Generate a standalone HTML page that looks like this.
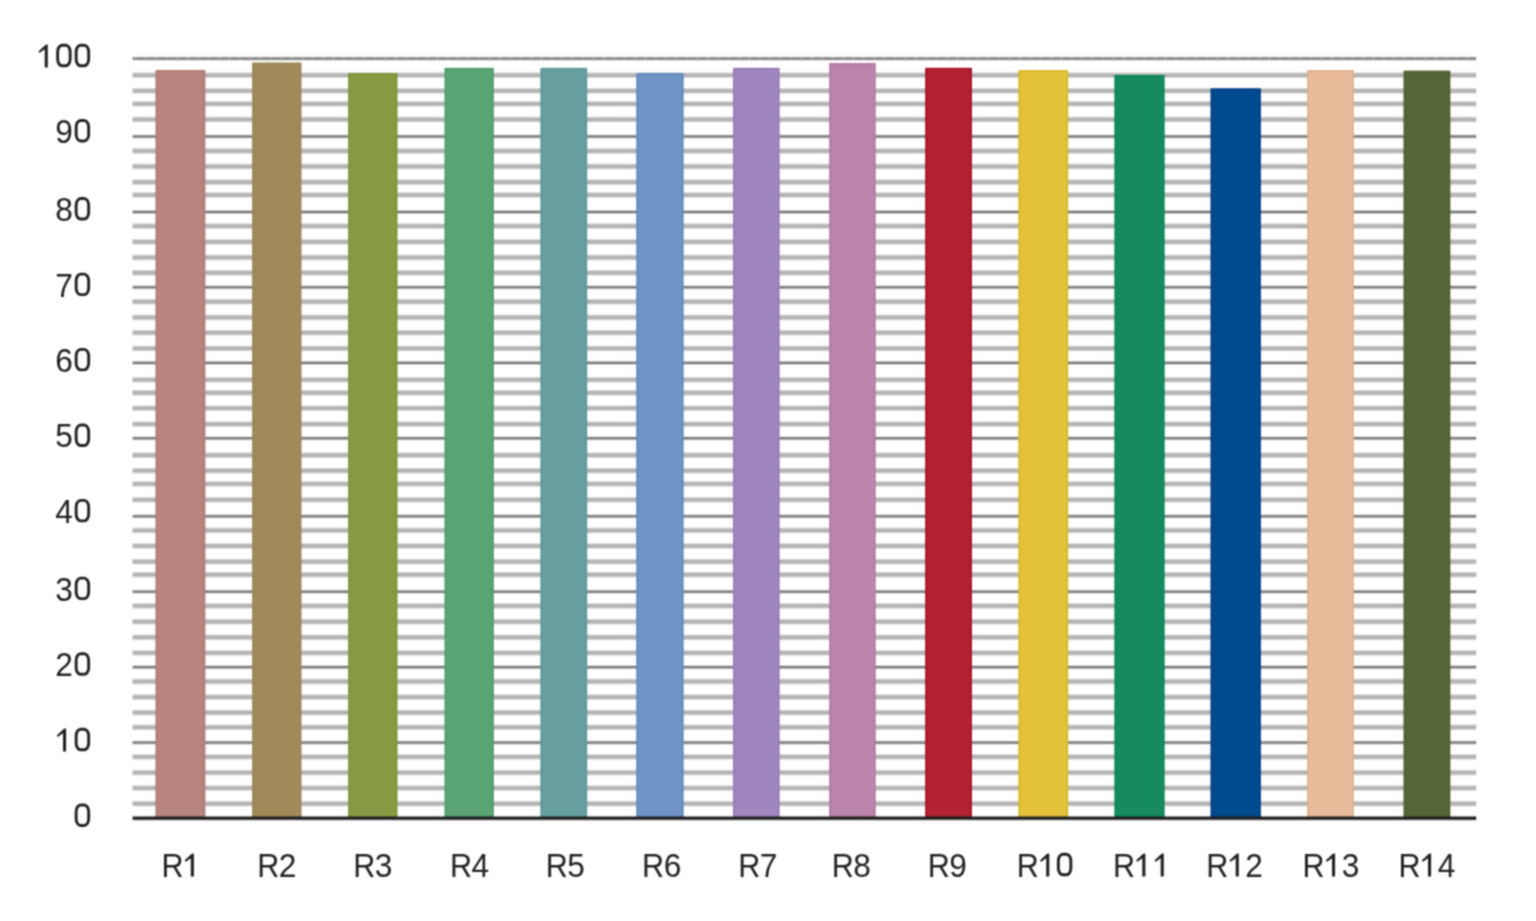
<!DOCTYPE html>
<html><head><meta charset="utf-8"><style>
html,body{margin:0;padding:0;background:#fff;width:1536px;height:921px;overflow:hidden}
svg{display:block;font-family:"Liberation Sans",sans-serif}
</style></head><body>
<svg width="1536" height="921" viewBox="0 0 1536 921">
<rect width="1536" height="921" fill="#fff"/>
<defs><filter id="k" x="0" y="0" width="1536" height="921" filterUnits="userSpaceOnUse" color-interpolation-filters="sRGB"><feConvolveMatrix order="3" kernelMatrix="1 2 1 2 4 2 1 2 1" divisor="16" edgeMode="duplicate"/></filter></defs>
<g filter="url(#k)"><rect width="1536" height="921" fill="#fff"/>
<rect x="132.3" y="56.6" width="1344.2" height="4" fill="#7a7a7a" opacity=".3"/>
<rect x="132.8" y="57.5" width="1343.2" height="2.2" fill="#7a7a7a"/>
<rect x="132.3" y="72.3" width="1344.2" height="5.8" fill="#b4b4b4" opacity=".45"/>
<rect x="132.8" y="73.4" width="1343.2" height="3.6" fill="#b4b4b4"/>
<rect x="132.3" y="88" width="1344.2" height="5.8" fill="#b4b4b4" opacity=".45"/>
<rect x="132.8" y="89.1" width="1343.2" height="3.6" fill="#b4b4b4"/>
<rect x="132.3" y="101" width="1344.2" height="5.8" fill="#b4b4b4" opacity=".45"/>
<rect x="132.8" y="102.1" width="1343.2" height="3.6" fill="#b4b4b4"/>
<rect x="132.3" y="116.6" width="1344.2" height="5.8" fill="#b4b4b4" opacity=".45"/>
<rect x="132.8" y="117.7" width="1343.2" height="3.6" fill="#b4b4b4"/>
<rect x="132.3" y="134.5" width="1344.2" height="4" fill="#7a7a7a" opacity=".3"/>
<rect x="132.8" y="135.4" width="1343.2" height="2.2" fill="#7a7a7a"/>
<rect x="132.3" y="148.1" width="1344.2" height="5.8" fill="#b4b4b4" opacity=".45"/>
<rect x="132.8" y="149.2" width="1343.2" height="3.6" fill="#b4b4b4"/>
<rect x="132.3" y="163.6" width="1344.2" height="5.8" fill="#b4b4b4" opacity=".45"/>
<rect x="132.8" y="164.7" width="1343.2" height="3.6" fill="#b4b4b4"/>
<rect x="132.3" y="179.2" width="1344.2" height="5.8" fill="#b4b4b4" opacity=".45"/>
<rect x="132.8" y="180.3" width="1343.2" height="3.6" fill="#b4b4b4"/>
<rect x="132.3" y="192.1" width="1344.2" height="5.8" fill="#b4b4b4" opacity=".45"/>
<rect x="132.8" y="193.2" width="1343.2" height="3.6" fill="#b4b4b4"/>
<rect x="132.3" y="210" width="1344.2" height="4" fill="#7a7a7a" opacity=".3"/>
<rect x="132.8" y="210.9" width="1343.2" height="2.2" fill="#7a7a7a"/>
<rect x="132.3" y="223.2" width="1344.2" height="5.8" fill="#b4b4b4" opacity=".45"/>
<rect x="132.8" y="224.3" width="1343.2" height="3.6" fill="#b4b4b4"/>
<rect x="132.3" y="239" width="1344.2" height="5.8" fill="#b4b4b4" opacity=".45"/>
<rect x="132.8" y="240.1" width="1343.2" height="3.6" fill="#b4b4b4"/>
<rect x="132.3" y="254.6" width="1344.2" height="5.8" fill="#b4b4b4" opacity=".45"/>
<rect x="132.8" y="255.7" width="1343.2" height="3.6" fill="#b4b4b4"/>
<rect x="132.3" y="269.9" width="1344.2" height="5.8" fill="#b4b4b4" opacity=".45"/>
<rect x="132.8" y="271" width="1343.2" height="3.6" fill="#b4b4b4"/>
<rect x="132.3" y="285.3" width="1344.2" height="4" fill="#7a7a7a" opacity=".3"/>
<rect x="132.8" y="286.2" width="1343.2" height="2.2" fill="#7a7a7a"/>
<rect x="132.3" y="298.8" width="1344.2" height="5.8" fill="#b4b4b4" opacity=".45"/>
<rect x="132.8" y="299.9" width="1343.2" height="3.6" fill="#b4b4b4"/>
<rect x="132.3" y="314.5" width="1344.2" height="5.8" fill="#b4b4b4" opacity=".45"/>
<rect x="132.8" y="315.6" width="1343.2" height="3.6" fill="#b4b4b4"/>
<rect x="132.3" y="329.8" width="1344.2" height="5.8" fill="#b4b4b4" opacity=".45"/>
<rect x="132.8" y="330.9" width="1343.2" height="3.6" fill="#b4b4b4"/>
<rect x="132.3" y="345.5" width="1344.2" height="5.8" fill="#b4b4b4" opacity=".45"/>
<rect x="132.8" y="346.6" width="1343.2" height="3.6" fill="#b4b4b4"/>
<rect x="132.3" y="360.9" width="1344.2" height="4" fill="#7a7a7a" opacity=".3"/>
<rect x="132.8" y="361.8" width="1343.2" height="2.2" fill="#7a7a7a"/>
<rect x="132.3" y="376.9" width="1344.2" height="5.8" fill="#b4b4b4" opacity=".45"/>
<rect x="132.8" y="378" width="1343.2" height="3.6" fill="#b4b4b4"/>
<rect x="132.3" y="389.9" width="1344.2" height="5.8" fill="#b4b4b4" opacity=".45"/>
<rect x="132.8" y="391" width="1343.2" height="3.6" fill="#b4b4b4"/>
<rect x="132.3" y="405.3" width="1344.2" height="5.8" fill="#b4b4b4" opacity=".45"/>
<rect x="132.8" y="406.4" width="1343.2" height="3.6" fill="#b4b4b4"/>
<rect x="132.3" y="421.2" width="1344.2" height="5.8" fill="#b4b4b4" opacity=".45"/>
<rect x="132.8" y="422.3" width="1343.2" height="3.6" fill="#b4b4b4"/>
<rect x="132.3" y="436.3" width="1344.2" height="4" fill="#7a7a7a" opacity=".3"/>
<rect x="132.8" y="437.2" width="1343.2" height="2.2" fill="#7a7a7a"/>
<rect x="132.3" y="452.3" width="1344.2" height="5.8" fill="#b4b4b4" opacity=".45"/>
<rect x="132.8" y="453.4" width="1343.2" height="3.6" fill="#b4b4b4"/>
<rect x="132.3" y="467.8" width="1344.2" height="5.8" fill="#b4b4b4" opacity=".45"/>
<rect x="132.8" y="468.9" width="1343.2" height="3.6" fill="#b4b4b4"/>
<rect x="132.3" y="481" width="1344.2" height="5.8" fill="#b4b4b4" opacity=".45"/>
<rect x="132.8" y="482.1" width="1343.2" height="3.6" fill="#b4b4b4"/>
<rect x="132.3" y="496.9" width="1344.2" height="5.8" fill="#b4b4b4" opacity=".45"/>
<rect x="132.8" y="498" width="1343.2" height="3.6" fill="#b4b4b4"/>
<rect x="132.3" y="514.3" width="1344.2" height="4" fill="#7a7a7a" opacity=".3"/>
<rect x="132.8" y="515.2" width="1343.2" height="2.2" fill="#7a7a7a"/>
<rect x="132.3" y="527.5" width="1344.2" height="5.8" fill="#b4b4b4" opacity=".45"/>
<rect x="132.8" y="528.6" width="1343.2" height="3.6" fill="#b4b4b4"/>
<rect x="132.3" y="543.1" width="1344.2" height="5.8" fill="#b4b4b4" opacity=".45"/>
<rect x="132.8" y="544.2" width="1343.2" height="3.6" fill="#b4b4b4"/>
<rect x="132.3" y="558.8" width="1344.2" height="5.8" fill="#b4b4b4" opacity=".45"/>
<rect x="132.8" y="559.9" width="1343.2" height="3.6" fill="#b4b4b4"/>
<rect x="132.3" y="571.8" width="1344.2" height="5.8" fill="#b4b4b4" opacity=".45"/>
<rect x="132.8" y="572.9" width="1343.2" height="3.6" fill="#b4b4b4"/>
<rect x="132.3" y="589.7" width="1344.2" height="4" fill="#7a7a7a" opacity=".3"/>
<rect x="132.8" y="590.6" width="1343.2" height="2.2" fill="#7a7a7a"/>
<rect x="132.3" y="603" width="1344.2" height="5.8" fill="#b4b4b4" opacity=".45"/>
<rect x="132.8" y="604.1" width="1343.2" height="3.6" fill="#b4b4b4"/>
<rect x="132.3" y="618.8" width="1344.2" height="5.8" fill="#b4b4b4" opacity=".45"/>
<rect x="132.8" y="619.9" width="1343.2" height="3.6" fill="#b4b4b4"/>
<rect x="132.3" y="634.4" width="1344.2" height="5.8" fill="#b4b4b4" opacity=".45"/>
<rect x="132.8" y="635.5" width="1343.2" height="3.6" fill="#b4b4b4"/>
<rect x="132.3" y="650" width="1344.2" height="5.8" fill="#b4b4b4" opacity=".45"/>
<rect x="132.8" y="651.1" width="1343.2" height="3.6" fill="#b4b4b4"/>
<rect x="132.3" y="665.2" width="1344.2" height="4" fill="#7a7a7a" opacity=".3"/>
<rect x="132.8" y="666.1" width="1343.2" height="2.2" fill="#7a7a7a"/>
<rect x="132.3" y="678.6" width="1344.2" height="5.8" fill="#b4b4b4" opacity=".45"/>
<rect x="132.8" y="679.7" width="1343.2" height="3.6" fill="#b4b4b4"/>
<rect x="132.3" y="694.2" width="1344.2" height="5.8" fill="#b4b4b4" opacity=".45"/>
<rect x="132.8" y="695.3" width="1343.2" height="3.6" fill="#b4b4b4"/>
<rect x="132.3" y="709.7" width="1344.2" height="5.8" fill="#b4b4b4" opacity=".45"/>
<rect x="132.8" y="710.8" width="1343.2" height="3.6" fill="#b4b4b4"/>
<rect x="132.3" y="724.4" width="1344.2" height="5.8" fill="#b4b4b4" opacity=".45"/>
<rect x="132.8" y="725.5" width="1343.2" height="3.6" fill="#b4b4b4"/>
<rect x="132.3" y="740.6" width="1344.2" height="4" fill="#7a7a7a" opacity=".3"/>
<rect x="132.8" y="741.5" width="1343.2" height="2.2" fill="#7a7a7a"/>
<rect x="132.3" y="754" width="1344.2" height="5.8" fill="#b4b4b4" opacity=".45"/>
<rect x="132.8" y="755.1" width="1343.2" height="3.6" fill="#b4b4b4"/>
<rect x="132.3" y="769.7" width="1344.2" height="5.8" fill="#b4b4b4" opacity=".45"/>
<rect x="132.8" y="770.8" width="1343.2" height="3.6" fill="#b4b4b4"/>
<rect x="132.3" y="785.2" width="1344.2" height="5.8" fill="#b4b4b4" opacity=".45"/>
<rect x="132.8" y="786.3" width="1343.2" height="3.6" fill="#b4b4b4"/>
<rect x="132.3" y="800.8" width="1344.2" height="5.8" fill="#b4b4b4" opacity=".45"/>
<rect x="132.8" y="801.9" width="1343.2" height="3.6" fill="#b4b4b4"/>
<rect x="155.7" y="70" width="49.5" height="748.2" fill="#b7857d"/>
<rect x="156.4" y="70.7" width="48.1" height="746.8" fill="none" stroke="#af786f" stroke-width="1.4"/>
<rect x="252.4" y="62.7" width="48.85" height="755.5" fill="#a08a5a"/>
<rect x="253.1" y="63.4" width="47.45" height="754.1" fill="none" stroke="#99814c" stroke-width="1.4"/>
<rect x="348.3" y="73.1" width="49" height="745.1" fill="#879a43"/>
<rect x="349" y="73.8" width="47.6" height="743.7" fill="none" stroke="#7e9333" stroke-width="1.4"/>
<rect x="444.7" y="67.9" width="48.9" height="750.3" fill="#5aa373"/>
<rect x="445.4" y="68.6" width="47.5" height="748.9" fill="none" stroke="#4b9c67" stroke-width="1.4"/>
<rect x="540.6" y="67.9" width="46.5" height="750.3" fill="#679e9f"/>
<rect x="541.3" y="68.6" width="45.1" height="748.9" fill="none" stroke="#5a9798" stroke-width="1.4"/>
<rect x="636.5" y="73.1" width="46.9" height="745.1" fill="#7094c6"/>
<rect x="637.2" y="73.8" width="45.5" height="743.7" fill="none" stroke="#5f86be" stroke-width="1.4"/>
<rect x="733.1" y="67.9" width="46.3" height="750.3" fill="#a086bf"/>
<rect x="733.8" y="68.6" width="44.9" height="748.9" fill="none" stroke="#9578b7" stroke-width="1.4"/>
<rect x="829.4" y="63" width="46.1" height="755.2" fill="#bb84ac"/>
<rect x="830.1" y="63.7" width="44.7" height="753.8" fill="none" stroke="#b376a2" stroke-width="1.4"/>
<rect x="925.4" y="67.9" width="46.4" height="750.3" fill="#b32234"/>
<rect x="926.1" y="68.6" width="45" height="748.9" fill="none" stroke="#ab0b1f" stroke-width="1.4"/>
<rect x="1018.6" y="70.3" width="49.5" height="747.9" fill="#e3c23a"/>
<rect x="1019.3" y="71" width="48.1" height="746.5" fill="none" stroke="#d9b51f" stroke-width="1.4"/>
<rect x="1114.6" y="75" width="49.8" height="743.2" fill="#158b5f"/>
<rect x="1115.3" y="75.7" width="48.4" height="741.8" fill="none" stroke="#038554" stroke-width="1.4"/>
<rect x="1210.7" y="88.5" width="50" height="729.7" fill="#004a8f"/>
<rect x="1211.4" y="89.2" width="48.6" height="728.3" fill="none" stroke="#003d89" stroke-width="1.4"/>
<rect x="1307.4" y="70.2" width="46.2" height="748" fill="#e8bb9a"/>
<rect x="1308.1" y="70.9" width="44.8" height="746.6" fill="none" stroke="#dead88" stroke-width="1.4"/>
<rect x="1403.7" y="70.8" width="46.5" height="747.4" fill="#566536"/>
<rect x="1404.4" y="71.5" width="45.1" height="746" fill="none" stroke="#50602d" stroke-width="1.4"/>
<defs><pattern id="dp" patternUnits="userSpaceOnUse" x="145" y="0" width="10.4" height="921"><rect x="0" y="56.6" width="2.4" height="4" fill="#fff" opacity=".15"/></pattern></defs>
<rect x="132.8" y="56.6" width="1343.2" height="4" fill="url(#dp)"/>
<rect x="132.3" y="815.8" width="1344.2" height="4.8" fill="#222" opacity=".3"/>
<rect x="132.8" y="816.8" width="1343.2" height="2.8" fill="#1c1c1c"/>
<g fill="#222" font-size="33.4">
<rect x="76.15" y="45.25" width="12.5" height="20.5" rx="4.5" ry="6.5" fill="none" stroke="#222" stroke-width="2.9"/>
<rect x="57.65" y="45.25" width="12.5" height="20.5" rx="4.5" ry="6.5" fill="none" stroke="#222" stroke-width="2.9"/>
<path d="M47.8 44.6 L47.8 67.6 L44.7 67.6 L44.7 49.2 L39.4 52.9 L38.6 51.3 L45.6 44.8Z"/>
<rect x="76.15" y="120.45" width="12.5" height="20.5" rx="4.5" ry="6.5" fill="none" stroke="#222" stroke-width="2.9"/>
<text transform="translate(64 142.8) scale(.95 1)" x="-9.3">9</text>
<rect x="76.15" y="198.55" width="12.5" height="20.5" rx="4.5" ry="6.5" fill="none" stroke="#222" stroke-width="2.9"/>
<text transform="translate(64 220.9) scale(.95 1)" x="-9.3">8</text>
<rect x="76.15" y="274.15" width="12.5" height="20.5" rx="4.5" ry="6.5" fill="none" stroke="#222" stroke-width="2.9"/>
<text transform="translate(64 296.5) scale(.95 1)" x="-9.3">7</text>
<rect x="76.15" y="349.35" width="12.5" height="20.5" rx="4.5" ry="6.5" fill="none" stroke="#222" stroke-width="2.9"/>
<text transform="translate(64 371.7) scale(.95 1)" x="-9.3">6</text>
<rect x="76.15" y="425.05" width="12.5" height="20.5" rx="4.5" ry="6.5" fill="none" stroke="#222" stroke-width="2.9"/>
<text transform="translate(64 447.4) scale(.95 1)" x="-9.3">5</text>
<rect x="76.15" y="500.35" width="12.5" height="20.5" rx="4.5" ry="6.5" fill="none" stroke="#222" stroke-width="2.9"/>
<text transform="translate(64 522.7) scale(.95 1)" x="-9.3">4</text>
<rect x="76.15" y="578.15" width="12.5" height="20.5" rx="4.5" ry="6.5" fill="none" stroke="#222" stroke-width="2.9"/>
<text transform="translate(64 600.5) scale(.95 1)" x="-9.3">3</text>
<rect x="76.15" y="653.75" width="12.5" height="20.5" rx="4.5" ry="6.5" fill="none" stroke="#222" stroke-width="2.9"/>
<text transform="translate(64 676.1) scale(.95 1)" x="-9.3">2</text>
<rect x="76.15" y="729.25" width="12.5" height="20.5" rx="4.5" ry="6.5" fill="none" stroke="#222" stroke-width="2.9"/>
<path d="M66.1 728.6 L66.1 751.6 L63 751.6 L63 733.2 L57.7 736.9 L56.9 735.3 L63.9 728.8Z"/>
<rect x="76.15" y="804.95" width="12.5" height="20.5" rx="4.5" ry="6.5" fill="none" stroke="#222" stroke-width="2.9"/>
<text transform="translate(161.39 876.6) scale(.915 1)">R</text>
<path d="M193.9 853.6 L193.9 876.6 L190.8 876.6 L190.8 858.2 L185.5 861.9 L184.7 860.3 L191.7 853.8Z"/>
<text transform="translate(257.29 876.6) scale(.915 1)">R</text>
<text transform="translate(287.7 876.6) scale(.95 1)" x="-9.3">2</text>
<text transform="translate(353.19 876.6) scale(.915 1)">R</text>
<text transform="translate(383.6 876.6) scale(.95 1)" x="-9.3">3</text>
<text transform="translate(449.89 876.6) scale(.915 1)">R</text>
<text transform="translate(480.3 876.6) scale(.95 1)" x="-9.3">4</text>
<text transform="translate(545.69 876.6) scale(.915 1)">R</text>
<text transform="translate(576.1 876.6) scale(.95 1)" x="-9.3">5</text>
<text transform="translate(642.09 876.6) scale(.915 1)">R</text>
<text transform="translate(672.5 876.6) scale(.95 1)" x="-9.3">6</text>
<text transform="translate(738.19 876.6) scale(.915 1)">R</text>
<text transform="translate(768.6 876.6) scale(.95 1)" x="-9.3">7</text>
<text transform="translate(831.69 876.6) scale(.915 1)">R</text>
<text transform="translate(862.1 876.6) scale(.95 1)" x="-9.3">8</text>
<text transform="translate(927.79 876.6) scale(.915 1)">R</text>
<text transform="translate(958.2 876.6) scale(.95 1)" x="-9.3">9</text>
<text transform="translate(1016.79 876.6) scale(.915 1)">R</text>
<path d="M1049.3 853.6 L1049.3 876.6 L1046.2 876.6 L1046.2 858.2 L1040.9 861.9 L1040.1 860.3 L1047.1 853.8Z"/>
<rect x="1058.35" y="854.25" width="12.5" height="20.5" rx="4.5" ry="6.5" fill="none" stroke="#222" stroke-width="2.9"/>
<text transform="translate(1112.89 876.6) scale(.915 1)">R</text>
<path d="M1145.4 853.6 L1145.4 876.6 L1142.3 876.6 L1142.3 858.2 L1137 861.9 L1136.2 860.3 L1143.2 853.8Z"/>
<path d="M1163.8 853.6 L1163.8 876.6 L1160.7 876.6 L1160.7 858.2 L1155.4 861.9 L1154.6 860.3 L1161.6 853.8Z"/>
<text transform="translate(1206.29 876.6) scale(.915 1)">R</text>
<path d="M1238.8 853.6 L1238.8 876.6 L1235.7 876.6 L1235.7 858.2 L1230.4 861.9 L1229.6 860.3 L1236.6 853.8Z"/>
<text transform="translate(1254.2 876.6) scale(.95 1)" x="-9.3">2</text>
<text transform="translate(1302.59 876.6) scale(.915 1)">R</text>
<path d="M1335.1 853.6 L1335.1 876.6 L1332 876.6 L1332 858.2 L1326.7 861.9 L1325.9 860.3 L1332.9 853.8Z"/>
<text transform="translate(1350.5 876.6) scale(.95 1)" x="-9.3">3</text>
<text transform="translate(1398.59 876.6) scale(.915 1)">R</text>
<path d="M1431.1 853.6 L1431.1 876.6 L1428 876.6 L1428 858.2 L1422.7 861.9 L1421.9 860.3 L1428.9 853.8Z"/>
<text transform="translate(1446.5 876.6) scale(.95 1)" x="-9.3">4</text>
</g>
</g>
</svg>
</body></html>
